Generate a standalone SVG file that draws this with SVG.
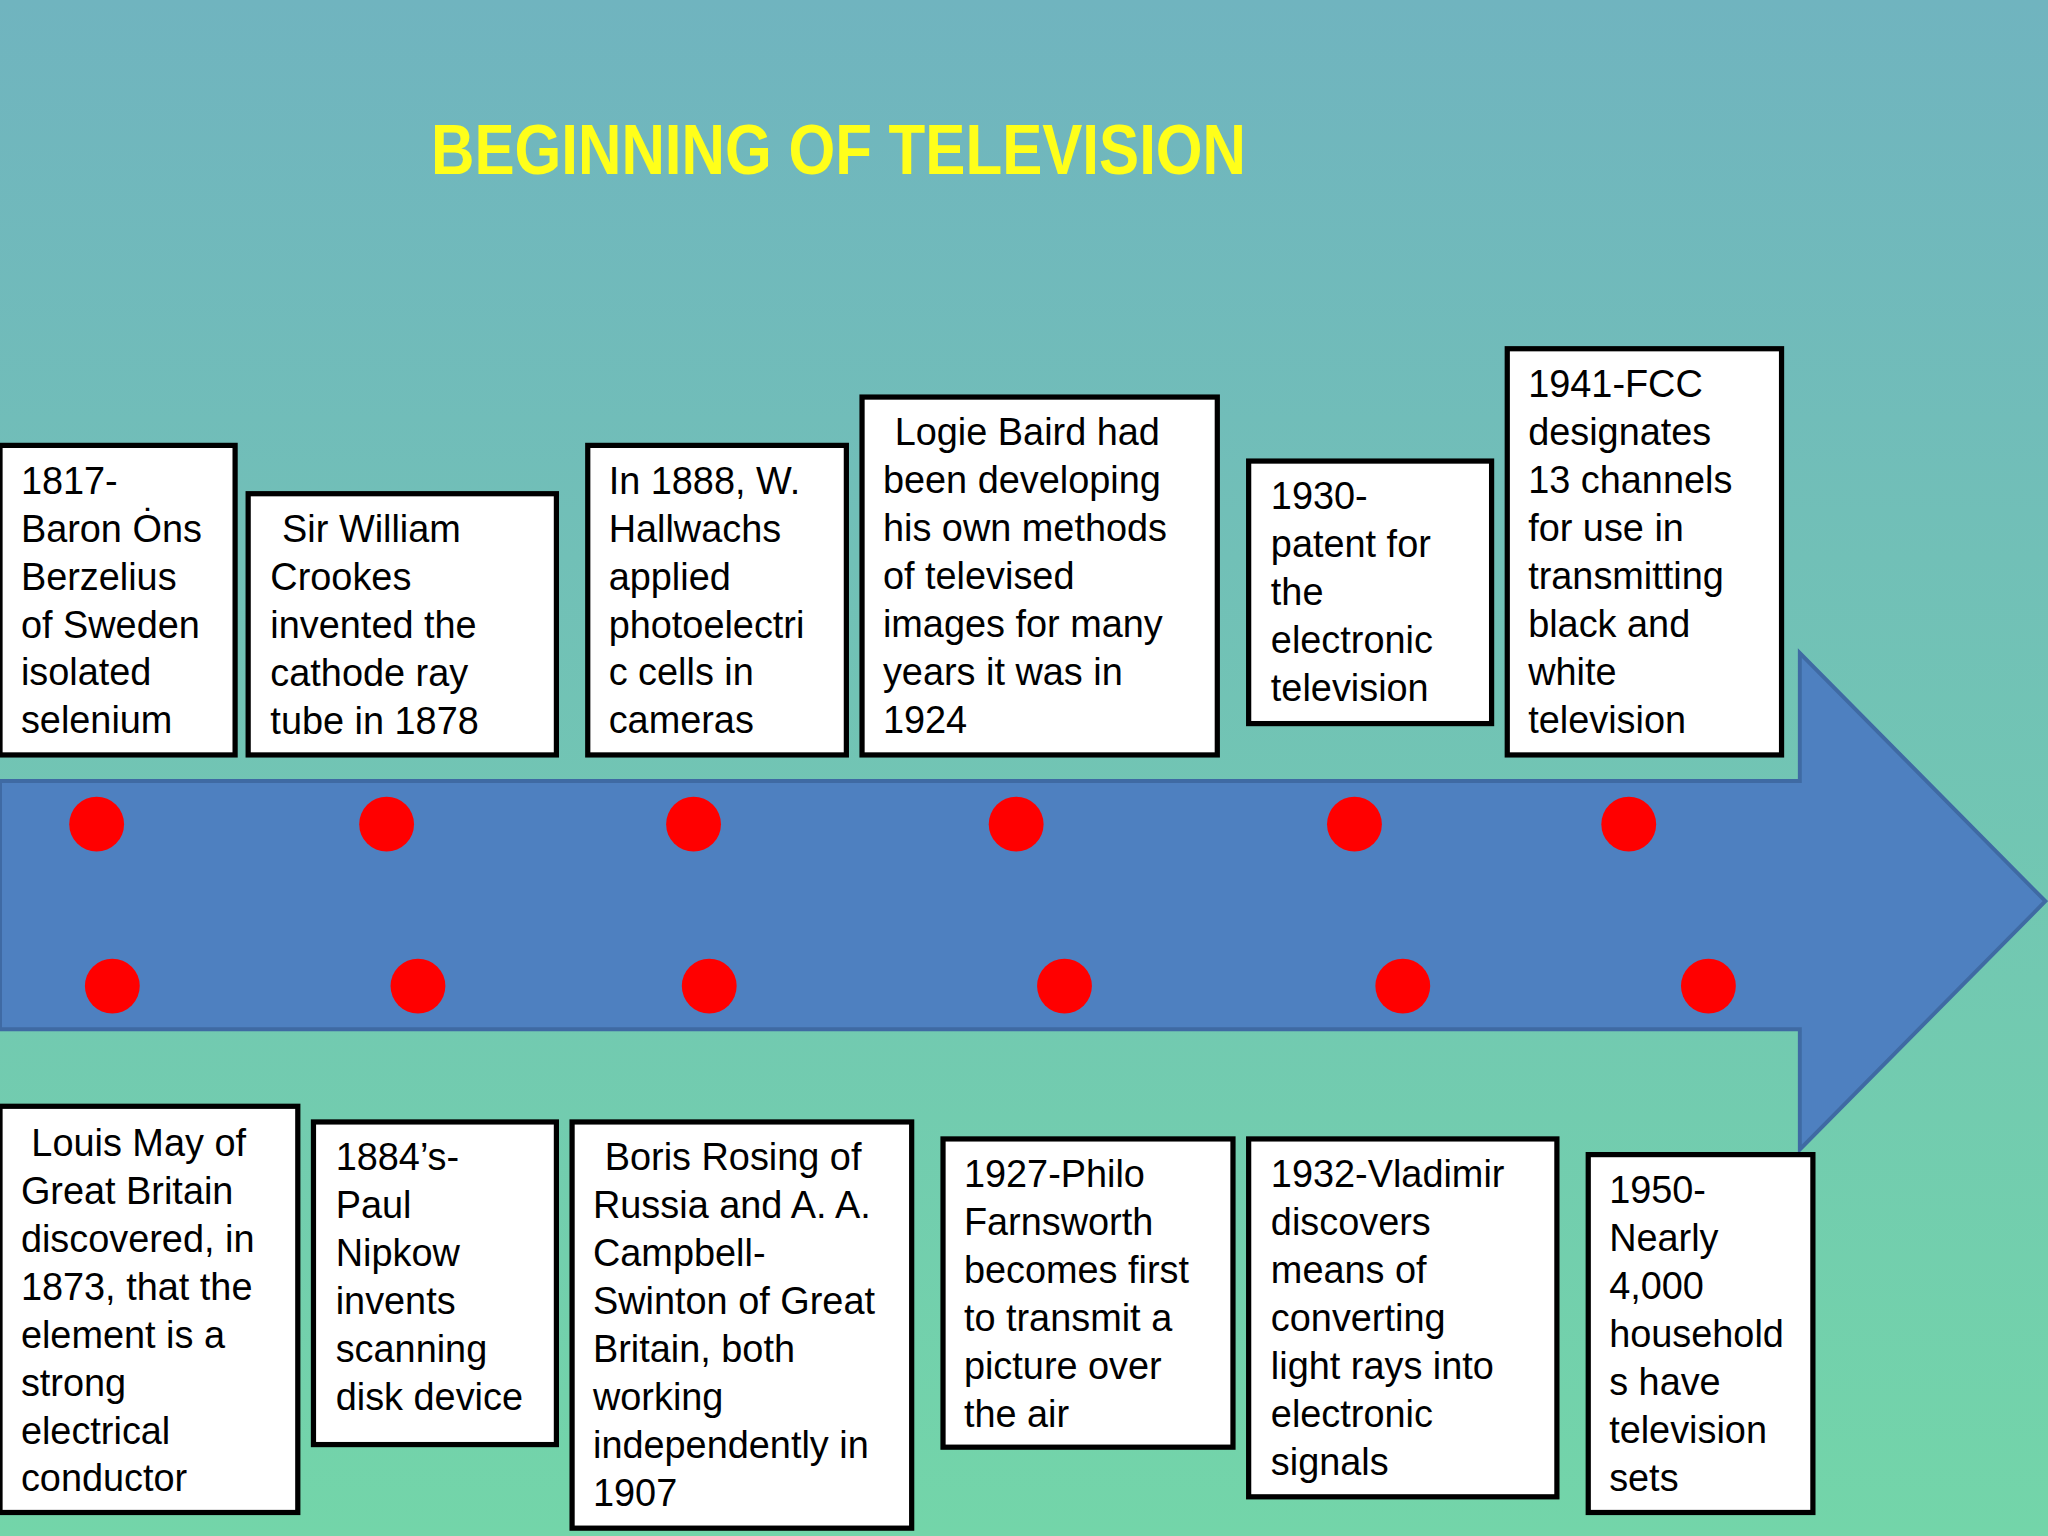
<svg xmlns="http://www.w3.org/2000/svg" width="2048" height="1536" viewBox="0 0 2048 1536">
<defs>
<linearGradient id="bg" x1="0" y1="0" x2="0" y2="1"><stop offset="0" stop-color="#70b4bf"/><stop offset="1" stop-color="#73d5a9"/></linearGradient>
<style>
.box{fill:#fff;stroke:#000;stroke-width:4}
.t{font-family:"Liberation Sans",Arial,sans-serif;font-size:29px;fill:#000}
.dot{fill:#f00}
</style>
</defs>
<rect width="2048" height="1536" fill="url(#bg)"/>
<g transform="scale(1.30612)">
<text x="330" y="133" font-family="Liberation Sans Narrow,Liberation Sans,sans-serif" font-weight="bold" font-size="54" fill="#ffff1a" textLength="624" lengthAdjust="spacingAndGlyphs">BEGINNING OF TELEVISION</text>
<g id="arrow"><path d="M0 598 H1378 V500 L1566 690 L1378 880 V788 H0 Z" fill="#4e80c0" stroke="#3f6aa3" stroke-width="3"/></g>
<g id="dots">
<circle class="dot" cx="74" cy="631" r="21"/><circle class="dot" cx="296" cy="631" r="21"/><circle class="dot" cx="531" cy="631" r="21"/><circle class="dot" cx="778" cy="631" r="21"/><circle class="dot" cx="1037" cy="631" r="21"/><circle class="dot" cx="1247" cy="631" r="21"/>
<circle class="dot" cx="86" cy="755" r="21"/><circle class="dot" cx="320" cy="755" r="21"/><circle class="dot" cx="543" cy="755" r="21"/><circle class="dot" cx="815" cy="755" r="21"/><circle class="dot" cx="1074" cy="755" r="21"/><circle class="dot" cx="1308" cy="755" r="21"/>
</g>
<g id="connectors"/>
<g id="n1"><rect class="box" x="0" y="341" width="180" height="237"/><text class="t" x="16" y="378"><tspan x="16">1817-</tspan><tspan x="16" dy="36.7">Baron Ȯns</tspan><tspan x="16" dy="36.7">Berzelius</tspan><tspan x="16" dy="36.7">of Sweden</tspan><tspan x="16" dy="36.7">isolated</tspan><tspan x="16" dy="36.7">selenium</tspan></text></g>
<g id="n2"><rect class="box" x="190" y="378" width="236" height="200"/><text class="t" y="415"><tspan x="216">Sir William</tspan><tspan x="207" dy="36.7">Crookes</tspan><tspan x="207" dy="36.7">invented the</tspan><tspan x="207" dy="36.7">cathode ray</tspan><tspan x="207" dy="36.7">tube in 1878</tspan></text></g>
<g id="n3"><rect class="box" x="450" y="341" width="198" height="237"/><text class="t" y="378"><tspan x="466">In 1888, W.</tspan><tspan x="466" dy="36.7">Hallwachs</tspan><tspan x="466" dy="36.7">applied</tspan><tspan x="466" dy="36.7">photoelectri</tspan><tspan x="466" dy="36.7">c cells in</tspan><tspan x="466" dy="36.7">cameras</tspan></text></g>
<g id="n4"><rect class="box" x="660" y="304" width="272" height="274"/><text class="t" y="341"><tspan x="685">Logie Baird had</tspan><tspan x="676" dy="36.7">been developing</tspan><tspan x="676" dy="36.7">his own methods</tspan><tspan x="676" dy="36.7">of televised</tspan><tspan x="676" dy="36.7">images for many</tspan><tspan x="676" dy="36.7">years it was in</tspan><tspan x="676" dy="36.7">1924</tspan></text></g>
<g id="n5"><rect class="box" x="956" y="353" width="186" height="201"/><text class="t" y="390"><tspan x="973">1930-</tspan><tspan x="973" dy="36.7">patent for</tspan><tspan x="973" dy="36.7">the</tspan><tspan x="973" dy="36.7">electronic</tspan><tspan x="973" dy="36.7">television</tspan></text></g>
<g id="n6"><rect class="box" x="1154" y="267" width="210" height="311"/><text class="t" y="304"><tspan x="1170">1941-FCC</tspan><tspan x="1170" dy="36.7">designates</tspan><tspan x="1170" dy="36.7">13 channels</tspan><tspan x="1170" dy="36.7">for use in</tspan><tspan x="1170" dy="36.7">transmitting</tspan><tspan x="1170" dy="36.7">black and</tspan><tspan x="1170" dy="36.7">white</tspan><tspan x="1170" dy="36.7">television</tspan></text></g>
<g id="n7"><rect class="box" x="0" y="847" width="228" height="311"/><text class="t" y="885"><tspan x="24">Louis May of</tspan><tspan x="16" dy="36.7">Great Britain</tspan><tspan x="16" dy="36.7">discovered, in</tspan><tspan x="16" dy="36.7">1873, that the</tspan><tspan x="16" dy="36.7">element is a</tspan><tspan x="16" dy="36.7">strong</tspan><tspan x="16" dy="36.7">electrical</tspan><tspan x="16" dy="36.7">conductor</tspan></text></g>
<g id="n8"><rect class="box" x="240" y="859" width="186" height="247"/><text class="t" y="896"><tspan x="257">1884’s-</tspan><tspan x="257" dy="36.7">Paul</tspan><tspan x="257" dy="36.7">Nipkow</tspan><tspan x="257" dy="36.7">invents</tspan><tspan x="257" dy="36.7">scanning</tspan><tspan x="257" dy="36.7">disk device</tspan></text></g>
<g id="n9"><rect class="box" x="438" y="859" width="260" height="311"/><text class="t" y="896"><tspan x="463">Boris Rosing of</tspan><tspan x="454" dy="36.7">Russia and A. A.</tspan><tspan x="454" dy="36.7">Campbell-</tspan><tspan x="454" dy="36.7">Swinton of Great</tspan><tspan x="454" dy="36.7">Britain, both</tspan><tspan x="454" dy="36.7">working</tspan><tspan x="454" dy="36.7">independently in</tspan><tspan x="454" dy="36.7">1907</tspan></text></g>
<g id="n10"><rect class="box" x="722" y="872" width="222" height="236"/><text class="t" y="909"><tspan x="738">1927-Philo</tspan><tspan x="738" dy="36.7">Farnsworth</tspan><tspan x="738" dy="36.7">becomes first</tspan><tspan x="738" dy="36.7">to transmit a</tspan><tspan x="738" dy="36.7">picture over</tspan><tspan x="738" dy="36.7">the air</tspan></text></g>
<g id="n11"><rect class="box" x="956" y="872" width="236" height="274"/><text class="t" y="909"><tspan x="973">1932-Vladimir</tspan><tspan x="973" dy="36.7">discovers</tspan><tspan x="973" dy="36.7">means of</tspan><tspan x="973" dy="36.7">converting</tspan><tspan x="973" dy="36.7">light rays into</tspan><tspan x="973" dy="36.7">electronic</tspan><tspan x="973" dy="36.7">signals</tspan></text></g>
<g id="n12"><rect class="box" x="1216" y="884" width="172" height="274"/><text class="t" y="921"><tspan x="1232">1950-</tspan><tspan x="1232" dy="36.7">Nearly</tspan><tspan x="1232" dy="36.7">4,000</tspan><tspan x="1232" dy="36.7">household</tspan><tspan x="1232" dy="36.7">s have</tspan><tspan x="1232" dy="36.7">television</tspan><tspan x="1232" dy="36.7">sets</tspan></text></g>
</g>
</svg>
